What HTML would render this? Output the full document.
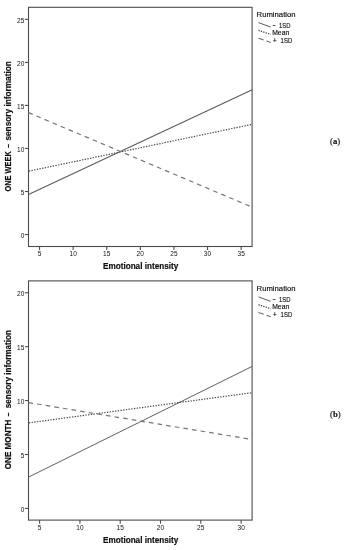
<!DOCTYPE html>
<html><head><meta charset="utf-8"><style>
html,body{margin:0;padding:0;background:#fff;width:345px;height:550px;overflow:hidden}
svg{display:block}
.tk{font:6.5px "Liberation Sans",sans-serif;fill:#111;letter-spacing:0.15px}
.ax{font:bold 8.5px "Liberation Sans",sans-serif;fill:#111;stroke:#111;stroke-width:0.2px}
.ay{font:bold 9px "Liberation Sans",sans-serif;fill:#111;stroke:#111;stroke-width:0.2px}
.lg{font:7px "Liberation Sans",sans-serif;fill:#111;stroke:#111;stroke-width:0.15px}
.tag{font:8.7px "Liberation Serif",serif;fill:#111;stroke:#111;stroke-width:0.15px}
.tag tspan{font-weight:bold}
</style></head><body>
<svg width="345" height="550" viewBox="0 0 345 550">
<rect width="345" height="550" fill="#fff"/>
<g>
<rect x="28.5" y="7.3" width="223.6" height="239.2" fill="none" stroke="#4c4c4c" stroke-width="1.1"/>
<line x1="24.9" y1="234.56" x2="28.5" y2="234.56" stroke="#4c4c4c" stroke-width="1.1"/>
<text x="24.45" y="237.86" class="tk" text-anchor="end">0</text>
<line x1="24.9" y1="191.52" x2="28.5" y2="191.52" stroke="#4c4c4c" stroke-width="1.1"/>
<text x="24.45" y="194.82000000000002" class="tk" text-anchor="end">5</text>
<line x1="24.9" y1="148.48" x2="28.5" y2="148.48" stroke="#4c4c4c" stroke-width="1.1"/>
<text x="24.45" y="151.78" class="tk" text-anchor="end">10</text>
<line x1="24.9" y1="105.44" x2="28.5" y2="105.44" stroke="#4c4c4c" stroke-width="1.1"/>
<text x="24.45" y="108.74" class="tk" text-anchor="end">15</text>
<line x1="24.9" y1="62.4" x2="28.5" y2="62.4" stroke="#4c4c4c" stroke-width="1.1"/>
<text x="24.45" y="65.7" class="tk" text-anchor="end">20</text>
<line x1="24.9" y1="19.36" x2="28.5" y2="19.36" stroke="#4c4c4c" stroke-width="1.1"/>
<text x="24.45" y="22.66" class="tk" text-anchor="end">25</text>
<line x1="39.55" y1="246.5" x2="39.55" y2="250.1" stroke="#4c4c4c" stroke-width="1.1"/>
<text x="39.55" y="256.2" class="tk" text-anchor="middle">5</text>
<line x1="73.15" y1="246.5" x2="73.15" y2="250.1" stroke="#4c4c4c" stroke-width="1.1"/>
<text x="73.15" y="256.2" class="tk" text-anchor="middle">10</text>
<line x1="106.75" y1="246.5" x2="106.75" y2="250.1" stroke="#4c4c4c" stroke-width="1.1"/>
<text x="106.75" y="256.2" class="tk" text-anchor="middle">15</text>
<line x1="140.35" y1="246.5" x2="140.35" y2="250.1" stroke="#4c4c4c" stroke-width="1.1"/>
<text x="140.35" y="256.2" class="tk" text-anchor="middle">20</text>
<line x1="173.95" y1="246.5" x2="173.95" y2="250.1" stroke="#4c4c4c" stroke-width="1.1"/>
<text x="173.95" y="256.2" class="tk" text-anchor="middle">25</text>
<line x1="207.55" y1="246.5" x2="207.55" y2="250.1" stroke="#4c4c4c" stroke-width="1.1"/>
<text x="207.55" y="256.2" class="tk" text-anchor="middle">30</text>
<line x1="241.15" y1="246.5" x2="241.15" y2="250.1" stroke="#4c4c4c" stroke-width="1.1"/>
<text x="241.15" y="256.2" class="tk" text-anchor="middle">35</text>
<line x1="28.5" y1="194.4" x2="252.2" y2="89.8" stroke="#5a5a5a" stroke-width="1.05"/>
<line x1="28.5" y1="171.2" x2="252.2" y2="124.35" stroke="#484848" stroke-width="1.2" stroke-dasharray="1.35 1.37" stroke-dashoffset="-0.3"/>
<line x1="28.5" y1="112.6" x2="252.2" y2="207.2" stroke="#767676" stroke-width="1.2" stroke-dasharray="4.6 4.12"/>
<text x="140.60000000000002" y="269.2" class="ax" text-anchor="middle" textLength="75.2" lengthAdjust="spacingAndGlyphs">Emotional intensity</text>
<g transform="translate(10.7,0) rotate(-90)"><text x="-191.6" y="0" class="ay" textLength="40.400000000000006" lengthAdjust="spacingAndGlyphs">ONE WEEK</text><text x="-148.1" y="0" class="ay" textLength="4.0" lengthAdjust="spacingAndGlyphs">–</text><text x="-140.6" y="0" class="ay" textLength="79.39999999999999" lengthAdjust="spacingAndGlyphs">sensory information</text></g>
<text x="256.6" y="17.0" class="lg" textLength="39" lengthAdjust="spacingAndGlyphs">Rumination</text>
<line x1="258.5" y1="22.6" x2="270.7" y2="27.1" stroke="#5a5a5a" stroke-width="1"/>
<text x="272.6" y="28.0" class="lg" textLength="3" lengthAdjust="spacingAndGlyphs">−</text>
<text x="279.0" y="28.0" class="lg" textLength="11.4" lengthAdjust="spacingAndGlyphs">1SD</text>
<line x1="258.5" y1="30.4" x2="270.7" y2="34.4" stroke="#404040" stroke-width="1.25" stroke-dasharray="1.25 1.25"/>
<text x="272.2" y="35.1" class="lg" textLength="17" lengthAdjust="spacingAndGlyphs">Mean</text>
<line x1="258.5" y1="38.2" x2="270.7" y2="42.5" stroke="#6a6a6a" stroke-width="1.1" stroke-dasharray="5.5 3"/>
<text x="272.8" y="43.0" class="lg">+</text>
<text x="280.6" y="43.0" class="lg" textLength="11.6" lengthAdjust="spacingAndGlyphs">1SD</text>
<text x="330.1" y="143.9" class="tag">(<tspan>a</tspan>)</text>
<rect x="28.5" y="280.9" width="223.6" height="239.20000000000005" fill="none" stroke="#4c4c4c" stroke-width="1.1"/>
<line x1="24.9" y1="508.4" x2="28.5" y2="508.4" stroke="#4c4c4c" stroke-width="1.1"/>
<text x="24.45" y="511.7" class="tk" text-anchor="end">0</text>
<line x1="24.9" y1="454.5" x2="28.5" y2="454.5" stroke="#4c4c4c" stroke-width="1.1"/>
<text x="24.45" y="457.8" class="tk" text-anchor="end">5</text>
<line x1="24.9" y1="400.6" x2="28.5" y2="400.6" stroke="#4c4c4c" stroke-width="1.1"/>
<text x="24.45" y="403.90000000000003" class="tk" text-anchor="end">10</text>
<line x1="24.9" y1="346.7" x2="28.5" y2="346.7" stroke="#4c4c4c" stroke-width="1.1"/>
<text x="24.45" y="350.0" class="tk" text-anchor="end">15</text>
<line x1="24.9" y1="292.8" x2="28.5" y2="292.8" stroke="#4c4c4c" stroke-width="1.1"/>
<text x="24.45" y="296.1" class="tk" text-anchor="end">20</text>
<line x1="39.6" y1="520.1" x2="39.6" y2="523.7" stroke="#4c4c4c" stroke-width="1.1"/>
<text x="39.6" y="530.2" class="tk" text-anchor="middle">5</text>
<line x1="79.91" y1="520.1" x2="79.91" y2="523.7" stroke="#4c4c4c" stroke-width="1.1"/>
<text x="79.91" y="530.2" class="tk" text-anchor="middle">10</text>
<line x1="120.22" y1="520.1" x2="120.22" y2="523.7" stroke="#4c4c4c" stroke-width="1.1"/>
<text x="120.22" y="530.2" class="tk" text-anchor="middle">15</text>
<line x1="160.53" y1="520.1" x2="160.53" y2="523.7" stroke="#4c4c4c" stroke-width="1.1"/>
<text x="160.53" y="530.2" class="tk" text-anchor="middle">20</text>
<line x1="200.84" y1="520.1" x2="200.84" y2="523.7" stroke="#4c4c4c" stroke-width="1.1"/>
<text x="200.84" y="530.2" class="tk" text-anchor="middle">25</text>
<line x1="241.15" y1="520.1" x2="241.15" y2="523.7" stroke="#4c4c4c" stroke-width="1.1"/>
<text x="241.15" y="530.2" class="tk" text-anchor="middle">30</text>
<line x1="28.5" y1="477.15" x2="252.2" y2="366.4" stroke="#5a5a5a" stroke-width="1.05"/>
<line x1="28.5" y1="422.9" x2="252.2" y2="392.65" stroke="#484848" stroke-width="1.2" stroke-dasharray="1.35 1.37" stroke-dashoffset="-0.3"/>
<line x1="28.5" y1="402.6" x2="249.2" y2="439.0" stroke="#767676" stroke-width="1.2" stroke-dasharray="4.6 4.12"/>
<text x="140.60000000000002" y="542.8000000000001" class="ax" text-anchor="middle" textLength="75.2" lengthAdjust="spacingAndGlyphs">Emotional intensity</text>
<g transform="translate(10.7,0) rotate(-90)"><text x="-469.3" y="0" class="ay" textLength="49.69999999999999" lengthAdjust="spacingAndGlyphs">ONE MONTH</text><text x="-416.4" y="0" class="ay" textLength="4.0" lengthAdjust="spacingAndGlyphs">–</text><text x="-408.3" y="0" class="ay" textLength="78.30000000000001" lengthAdjust="spacingAndGlyphs">sensory information</text></g>
<text x="256.6" y="291.29999999999995" class="lg" textLength="39" lengthAdjust="spacingAndGlyphs">Rumination</text>
<line x1="258.5" y1="296.9" x2="270.7" y2="301.4" stroke="#5a5a5a" stroke-width="1"/>
<text x="272.6" y="302.29999999999995" class="lg" textLength="3" lengthAdjust="spacingAndGlyphs">−</text>
<text x="279.0" y="302.29999999999995" class="lg" textLength="11.4" lengthAdjust="spacingAndGlyphs">1SD</text>
<line x1="258.5" y1="304.69999999999993" x2="270.7" y2="308.69999999999993" stroke="#404040" stroke-width="1.25" stroke-dasharray="1.25 1.25"/>
<text x="272.2" y="309.4" class="lg" textLength="17" lengthAdjust="spacingAndGlyphs">Mean</text>
<line x1="258.5" y1="312.49999999999994" x2="270.7" y2="316.79999999999995" stroke="#6a6a6a" stroke-width="1.1" stroke-dasharray="5.5 3"/>
<text x="272.8" y="317.29999999999995" class="lg">+</text>
<text x="280.6" y="317.29999999999995" class="lg" textLength="11.6" lengthAdjust="spacingAndGlyphs">1SD</text>
<text x="330.1" y="416.6" class="tag">(<tspan>b</tspan>)</text>
</g>
</svg>
</body></html>
